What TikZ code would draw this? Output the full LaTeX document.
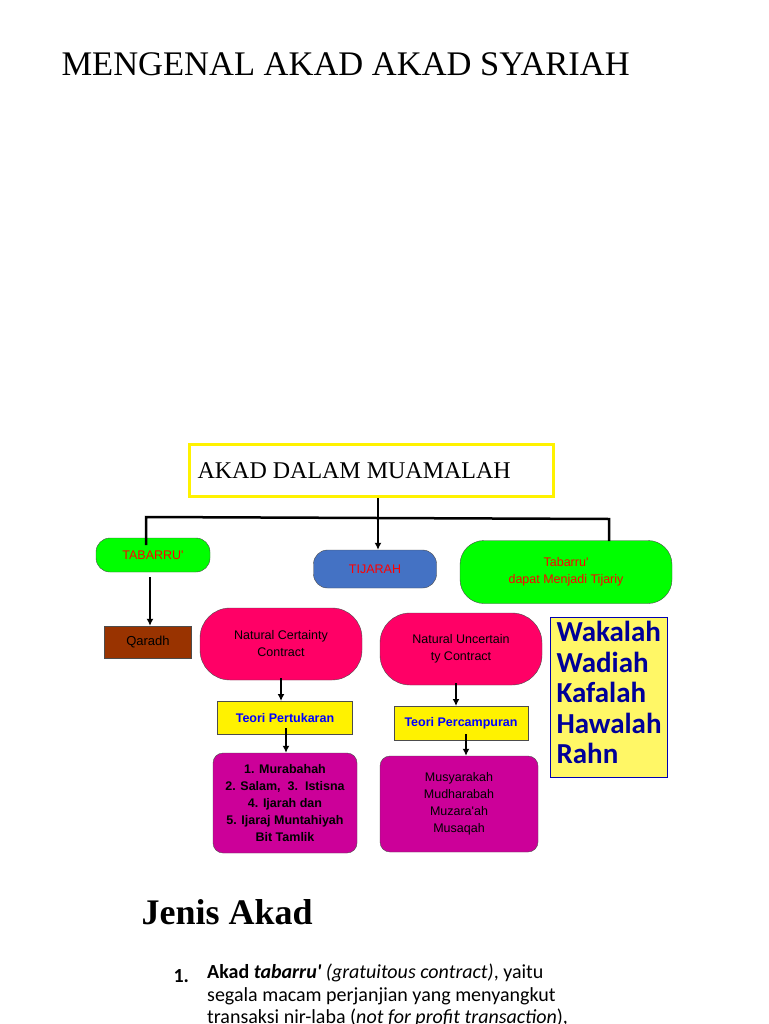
\documentclass[tikz,border=0pt]{standalone}
\usepackage{fontspec}
\setmainfont{Liberation Serif}
\newfontfamily\arialf{Liberation Sans}
\newfontfamily\calib{Carlito}
\usetikzlibrary{positioning,arrows.meta}
\definecolor{pinkred}{HTML}{FF0066}
\definecolor{plum}{HTML}{CC0099}
\definecolor{tijblue}{HTML}{4472C4}
\definecolor{qbrown}{HTML}{993300}
\definecolor{navy}{HTML}{000099}
\tikzset{
  pill/.style={draw=black!70, rounded corners=#1, align=center, inner sep=0pt, font=\arialf\fontsize{12.5}{17}\selectfont},
  pill/.default=14pt,
  teori/.style={draw=black!70, fill=yellow, font=\arialf\bfseries\fontsize{12.5}{14}\selectfont, text=blue, inner sep=0pt},
  isi/.style={draw=black!70, fill=plum, rounded corners=10pt, align=center, inner sep=0pt, font=\arialf\fontsize{12.5}{17}\selectfont},
  arr/.style={-{Latex[length=7pt,width=7pt]}, line width=2pt},
  bar/.style={line width=2.5pt}
}
\begin{document}
\begin{tikzpicture}[x=1pt,y=-1pt]
  \useasboundingbox[fill=white] (0,0) rectangle (768,1024);
  \clip (0,0) rectangle (768,1024);
  % heading
  \node[anchor=base west, font=\fontsize{34.5}{38}\selectfont] (judul) at (58,76) {MENGENAL AKAD AKAD SYARIAH};
  % root
  \node[draw=yellow, line width=3pt, minimum width=364pt, minimum height=52pt, inner sep=0pt] (akad) at (371,470) {};
  \node[anchor=base west, font=\fontsize{24}{28}\selectfont] (akadtxt) at (194,478) {AKAD DALAM MUAMALAH};
  % first row
  \node[pill, fill=green, text=red, minimum width=114pt, minimum height=34pt] (tabarru) at (153,555) {TABARRU'};
  \node[pill, fill=tijblue, text=red, minimum width=123pt, minimum height=38pt] (tijarah) at (375,569) {TIJARAH};
  \node[pill=24pt, fill=green, text=red, minimum width=212pt, minimum height=63pt] (dapat) at (566,572) {Tabarru'\\dapat Menjadi Tijariy};
  \coordinate (atas) at (378,498);
  \coordinate (cab) at (378,517);
  \draw[bar] (atas) -- (cab);
  \draw[bar] (146,545) -- (146,517) -- (609,519) -- (609,541);
  \draw[arr] (cab) -- (tijarah.north -| cab);
  % second row
  \node[draw=black!70, fill=qbrown, minimum width=87pt, minimum height=32pt, inner sep=0pt, font=\arialf\fontsize{13}{15}\selectfont] (qaradh) at (148,642) {Qaradh};
  \draw[arr] (tabarru.south -| 150,0) ++(0,5) -- (qaradh.north -| 150,0);
  \node[pill=30pt, fill=pinkred, minimum width=162pt, minimum height=72pt] (pasti) at (281,644) {Natural Certainty\\Contract};
  \node[pill=30pt, fill=pinkred, minimum width=162pt, minimum height=72pt] (takpasti) at (461,649) {Natural Uncertain\\ty Contract};
  \node[draw=blue!70!black, fill=yellow!60, minimum width=117pt, minimum height=160pt, inner sep=0pt] (sosial) at (609,697) {};
  \node[anchor=north west, align=left, text=navy, font=\calib\bfseries\fontsize{29}{30.5}\selectfont] (sosialtxt) at (553,618) {Wakalah\\Wadiah\\Kafalah\\Hawalah\\Rahn};
  % third row
  \node[teori, minimum width=135pt, minimum height=33pt] (tukar) at (285,718) {Teori Pertukaran};
  \node[teori, minimum width=134pt, minimum height=34pt] (campur) at (461,723) {Teori Percampuran};
  \draw[arr] (281,678) -- (281,701);
  \draw[arr] (456,683) -- (456,706);
  % bottom boxes
  \node[isi, minimum width=144pt, minimum height=100pt, font=\arialf\bfseries\fontsize{12.5}{17}\selectfont] (jual) at (285,803) {1. Murabahah\\2. Salam,\ \ 3.\ \ Istisna\\4. Ijarah dan\\5. Ijaraj Muntahiyah\\Bit Tamlik};
  \node[isi, minimum width=158pt, minimum height=96pt] (syirkah) at (459,804) {Musyarakah\\Mudharabah\\Muzara'ah\\Musaqah};
  \draw[arr] (286,728) -- (jual.north -| 286,0);
  \draw[arr] (466,734) -- (syirkah.north -| 466,0);
  % text below
  \node[anchor=base west, font=\bfseries\fontsize{36}{40}\selectfont] (jenis) at (138,924) {Jenis Akad};
  \node[anchor=base west, font=\calib\bfseries\fontsize{20}{22}\selectfont] (nomor) at (170,982) {1.};
  \node[anchor=north west, align=left, inner sep=0pt, font=\calib\fontsize{20}{22.5}\selectfont] (uraian) at (207,964)
    {\textbf{Akad \textit{tabarru'}} \textit{(gratuitous contract)}, yaitu\\segala macam perjanjian yang menyangkut\\transaksi nir-laba (\textit{not for profit transaction}),};
\end{tikzpicture}
\end{document}
